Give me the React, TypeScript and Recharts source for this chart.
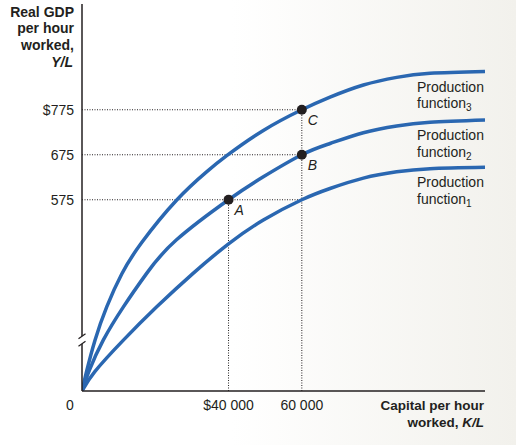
import { LineChart, Line, XAxis, YAxis, ReferenceLine, ReferenceDot, LabelList, Label } from 'recharts';

// Capital per hour worked (K/L) and real GDP per hour worked (Y/L)
const capital1 = [0, 3500, 11300, 20400, 30400, 40000, 49500, 60000, 67700, 76800, 85900, 95000, 110000];
const gdp1 = [150, 193, 263, 337, 412, 477, 530, 575, 600, 623, 637, 644, 647];

const capital2 = [0, 2000, 5800, 11300, 17700, 25800, 40000, 49500, 60000, 67700, 76800, 85900, 95000, 110000];
const gdp2 = [150, 196, 263, 337, 412, 486, 575, 626, 675, 700, 724, 739, 747, 752];

const capital3 = [0, 1300, 3550, 6750, 10850, 16300, 25800, 34000, 39500, 49500, 60000, 67700, 76800, 85900, 95000, 110000];
const gdp3 = [150, 195, 263, 337, 410, 480, 574, 637, 673, 729, 775, 803, 830, 847, 856, 860];

const curveNames = ['1', '2', '3'];

const pointK = [40000, 60000, 60000];
const pointY = [575, 675, 775];
const pointNames = ['A', 'B', 'C'];

const xTicks = [0, 40000, 60000];
const xTickLabels = ['0', '$40 000', '60 000'];
const yTicks = [575, 675, 775];
const yTickLabels = ['575', '675', '$775'];

const breakY = 263;

const TEXT = '#231f20';
const BLUE = '#2a67b1';
const FONT = '"Liberation Sans", Arial, Helvetica, sans-serif';

const toRows = (ks: number[], ys: number[]) => ks.map((k, i) => ({ k, y: ys[i] }));
const curves = [toRows(capital1, gdp1), toRows(capital2, gdp2), toRows(capital3, gdp3)];

const XTick = ({ x, y, payload }: any) => {
  const i = xTicks.indexOf(payload.value);
  return (
    <text x={payload.value === 0 ? x - 12 : x} y={y + 19} textAnchor="middle" fontSize={14} fill={TEXT} fontFamily={FONT}>
      {xTickLabels[i]}
    </text>
  );
};

const YTick = ({ x, y, payload }: any) => {
  const i = yTicks.indexOf(payload.value);
  return (
    <text x={x} y={y + 5} textAnchor="end" fontSize={14} fill={TEXT} fontFamily={FONT}>
      {yTickLabels[i]}
    </text>
  );
};

const YTitle = ({ viewBox }: any) => {
  const right = viewBox.x + viewBox.width - 8;
  const top = viewBox.y;
  return (
    <text textAnchor="end" fontSize={14} fontWeight="bold" fill={TEXT} fontFamily={FONT}>
      <tspan x={right} y={top + 12.5}>Real GDP</tspan>
      <tspan x={right} y={top + 29.2}>per hour</tspan>
      <tspan x={right} y={top + 45.9}>worked,</tspan>
      <tspan x={right - 1} y={top + 62.6} fontStyle="italic">Y/L</tspan>
    </text>
  );
};

const XTitle = ({ viewBox }: any) => {
  const right = viewBox.x + viewBox.width - 1;
  const top = viewBox.y;
  return (
    <text textAnchor="end" fontSize={13.5} fontWeight="bold" fill={TEXT} fontFamily={FONT}>
      <tspan x={right} y={top + 19}>Capital per hour</tspan>
      <tspan x={right} y={top + 35.7}>
        worked, <tspan fontStyle="italic">K/L</tspan>
      </tspan>
    </text>
  );
};

const curveLabel = (name: string, last: number) => (props: any) => {
  if (props.index !== last) return null;
  const x = props.x - 68;
  const y = props.y + 20;
  return (
    <text fontSize={14} fill={TEXT} fontFamily={FONT}>
      <tspan x={x} y={y}>Production</tspan>
      <tspan x={x} y={y + 16.5}>function</tspan>
      <tspan fontSize={10} dy={3}>{name}</tspan>
    </text>
  );
};

const PointMark = (name: string) => (props: any) => (
  <g>
    <circle cx={props.cx} cy={props.cy} r={5} fill={TEXT} />
    <text x={props.cx + 6} y={props.cy + 15.5} fontSize={14} fontStyle="italic" fill={TEXT} fontFamily={FONT}>
      {name}
    </text>
  </g>
);

const AxisBreak = (props: any) => {
  const { cx, cy } = props;
  return (
    <g>
      <polygon
        points={`${cx - 3.5},${cy - 1.5} ${cx + 3.5},${cy - 6.5} ${cx + 3.5},${cy + 1} ${cx - 3.5},${cy + 6}`}
        fill="#ffffff"
      />
      <line x1={cx - 3.5} y1={cy - 1.5} x2={cx + 3.5} y2={cy - 6.5} stroke={TEXT} strokeWidth={1.2} />
      <line x1={cx - 3.5} y1={cy + 6} x2={cx + 3.5} y2={cy + 1} stroke={TEXT} strokeWidth={1.2} />
    </g>
  );
};

export default function App() {
  return (
    <div
      style={{
        position: 'absolute',
        left: 0,
        top: 0,
        width: 516,
        height: 445,
        background: 'linear-gradient(to right, #ffffff 45%, #f2f1ec 100%)',
      }}
    >
      <LineChart width={516} height={445} margin={{ top: 4, right: 31, bottom: 24, left: 12 }}>
        <XAxis
          type="number"
          dataKey="k"
          domain={[0, 110000]}
          ticks={xTicks}
          allowDataOverflow
          height={30}
          tickSize={0}
          tickMargin={0}
          tickLine={false}
          tick={<XTick />}
          axisLine={{ stroke: TEXT, strokeWidth: 1.5 }}
        >
          <Label content={<XTitle />} />
        </XAxis>
        <YAxis
          type="number"
          dataKey="y"
          domain={[150, 1010]}
          ticks={yTicks}
          allowDataOverflow
          width={70}
          tickSize={0}
          tickMargin={8}
          tickLine={false}
          tick={<YTick />}
          axisLine={{ stroke: TEXT, strokeWidth: 1.5 }}
        >
          <Label content={<YTitle />} />
        </YAxis>

        {pointY.map((v, i) => (
          <ReferenceLine
            key={`h-${i}`}
            segment={[{ x: 0, y: v }, { x: pointK[1], y: v }]}
            stroke={TEXT}
            strokeWidth={1}
            strokeDasharray="1 1.5"
          />
        ))}
        {[pointK[0], pointK[2]].map((k, i) => (
          <ReferenceLine
            key={`v-${i}`}
            segment={[{ x: k, y: 150 }, { x: k, y: i === 0 ? pointY[0] : pointY[2] }]}
            stroke={TEXT}
            strokeWidth={1}
            strokeDasharray="1 1.5"
          />
        ))}

        {curves.map((rows, i) => (
          <Line
            key={`pf-${i}`}
            data={rows}
            dataKey="y"
            type="natural"
            stroke={BLUE}
            strokeWidth={3.5}
            dot={false}
            activeDot={false}
            isAnimationActive={false}
          >
            <LabelList dataKey="y" content={curveLabel(curveNames[i], rows.length - 1)} />
          </Line>
        ))}

        {pointNames.map((name, i) => (
          <ReferenceDot key={name} x={pointK[i]} y={pointY[i]} shape={PointMark(name)} />
        ))}
        <ReferenceDot x={0} y={breakY} shape={AxisBreak} ifOverflow="visible" />
      </LineChart>
    </div>
  );
}
